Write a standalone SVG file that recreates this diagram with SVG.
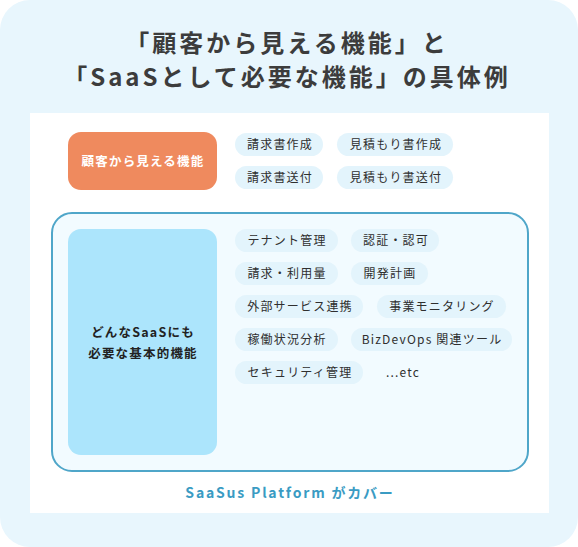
<svg xmlns="http://www.w3.org/2000/svg" width="578" height="547" viewBox="0 0 578 547">
<style>
.title{font-family:"Noto Sans CJK JP","Noto Sans",sans-serif;font-size:24px;font-weight:700;fill:#3c3c3c;letter-spacing:3px;text-anchor:middle}
.pill{fill:#E3F4FC}
.pt{font-family:"Noto Sans CJK JP","Noto Sans",sans-serif;font-size:12px;fill:#2f2f2f;letter-spacing:1.2px;text-anchor:middle}
.bt{font-family:"Noto Sans CJK JP","Noto Sans",sans-serif;font-size:12.5px;font-weight:700;letter-spacing:1.2px;text-anchor:middle}
</style>
<rect x="0" y="0" width="578" height="547" rx="30" fill="#E8F6FD"/>
<text class="title" x="287" y="52">「顧客から見える機能」と</text>
<text class="title" x="287" y="86">「SaaSとして必要な機能」の具体例</text>
<rect x="30" y="113" width="519" height="400" fill="#FFFFFF"/>

<g id="customer">
<rect x="68" y="132" width="149" height="58" rx="13" fill="#EF8A5E"/>
<text class="bt" x="143" y="166" fill="#FFFFFF">顧客から見える機能</text>
</g>
<g id="c1"><rect class="pill" x="235" y="133" width="88" height="23" rx="11.5"/><text class="pt" x="280" y="149">請求書作成</text></g>
<g id="c2"><rect class="pill" x="337" y="133" width="116" height="23" rx="11.5"/><text class="pt" x="396" y="149">見積もり書作成</text></g>
<g id="c3"><rect class="pill" x="235" y="166" width="88" height="23" rx="11.5"/><text class="pt" x="280" y="182">請求書送付</text></g>
<g id="c4"><rect class="pill" x="337" y="166" width="116" height="23" rx="11.5"/><text class="pt" x="396" y="182">見積もり書送付</text></g>

<g id="platform">
<rect x="52" y="213" width="476" height="258" rx="20" fill="#F2FBFF" stroke="#4FA6C9" stroke-width="2"/>
</g>
<g id="saas">
<rect x="68" y="229" width="149" height="226" rx="13" fill="#ACE5FC"/>
<text class="bt" x="143" y="337" fill="#222">どんなSaaSにも</text>
<text class="bt" x="143" y="358" fill="#222">必要な基本的機能</text>
</g>
<g id="s1"><rect class="pill" x="235" y="229" width="103" height="23" rx="11.5"/><text class="pt" x="287" y="245">テナント管理</text></g>
<g id="s2"><rect class="pill" x="351" y="229" width="88" height="23" rx="11.5"/><text class="pt" x="396" y="245">認証・認可</text></g>
<g id="s3"><rect class="pill" x="235" y="262" width="103" height="23" rx="11.5"/><text class="pt" x="287" y="278">請求・利用量</text></g>
<g id="s4"><rect class="pill" x="351" y="262" width="77" height="23" rx="11.5"/><text class="pt" x="390" y="278">開発計画</text></g>
<g id="s5"><rect class="pill" x="235" y="295" width="128" height="23" rx="11.5"/><text class="pt" x="300" y="311">外部サービス連携</text></g>
<g id="s6"><rect class="pill" x="377" y="295" width="129" height="23" rx="11.5"/><text class="pt" x="442" y="311">事業モニタリング</text></g>
<g id="s7"><rect class="pill" x="235" y="328" width="103" height="23" rx="11.5"/><text class="pt" x="287" y="344">稼働状況分析</text></g>
<g id="s8"><rect class="pill" x="351" y="328" width="161" height="23" rx="11.5"/><text class="pt" x="432" y="344">BizDevOps 関連ツール</text></g>
<g id="s9"><rect class="pill" x="235" y="361" width="128" height="23" rx="11.5"/><text class="pt" x="300" y="377">セキュリティ管理</text></g>
<g id="etc"><text class="pt" x="403" y="377">...etc</text></g>

<text x="290" y="498" font-family="Noto Sans CJK JP,Noto Sans,sans-serif" font-size="14" font-weight="700" fill="#3A9BC3" letter-spacing="1.8" text-anchor="middle">SaaSus Platform がカバー</text>
<g id="connectors"/>
</svg>
